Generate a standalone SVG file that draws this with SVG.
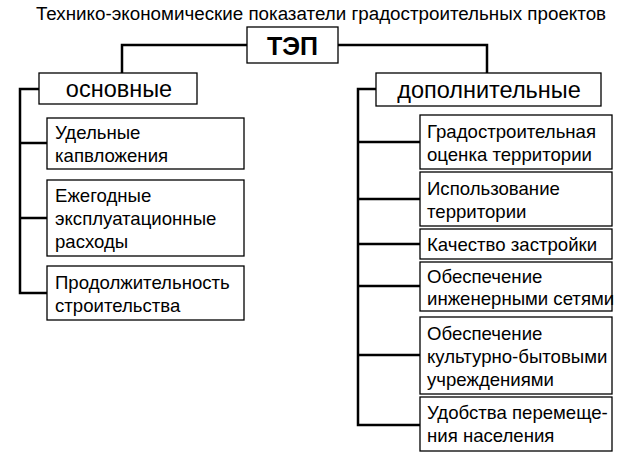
<svg xmlns="http://www.w3.org/2000/svg" width="641" height="454" viewBox="0 0 641 454">
<style>
rect{fill:#fff;stroke:#000;stroke-width:1.3}
text{font-family:"Liberation Sans",Arial,sans-serif;fill:#000}
.t{font-size:18.6px}
.h{font-size:23.5px}
#connectors path{fill:none;stroke:#000;stroke-width:2.5}
</style>
<rect x="0" y="0" width="641" height="454" style="stroke:none"/>
<text x="321" y="20" text-anchor="middle" style="font-size:18.8px">Технико-экономические показатели градостроительных проектов</text>
<g id="connectors">
<path d="M247 45H122V73M338 45H487V73"/>
<path d="M39 89H20V293H47M20 143H47M20 218H47"/>
<path d="M376 89H358V425H420M358 142H420M358 199H420M358 244H420M358 286H420M358 355H420"/>
</g>
<g id="tep"><rect x="247" y="27" width="91" height="36"/><text x="292.5" y="55" text-anchor="middle" style="font-size:25px;font-weight:bold">ТЭП</text></g>
<g id="osn"><rect x="39" y="73" width="158" height="31"/><text x="119" y="97" text-anchor="middle" class="h">основные</text></g>
<g id="dop"><rect x="376" y="73" width="225" height="33"/><text x="489" y="98" text-anchor="middle" class="h">дополнительные</text></g>
<g id="l1"><rect x="47" y="118" width="197" height="51"/><text x="55" y="139" class="t">Удельные</text><text x="55" y="162" class="t">капвложения</text></g>
<g id="l2"><rect x="47" y="180" width="197" height="76"/><text x="55" y="202" class="t">Ежегодные</text><text x="55" y="225" class="t">эксплуатационные</text><text x="55" y="248" class="t">расходы</text></g>
<g id="l3"><rect x="47" y="266" width="197" height="54"/><text x="55" y="289" class="t">Продолжительность</text><text x="55" y="312" class="t">строительства</text></g>
<g id="r1"><rect x="420" y="115" width="192" height="54"/><text x="427" y="138" class="t">Градостроительная</text><text x="427" y="161" class="t">оценка территории</text></g>
<g id="r2"><rect x="420" y="172" width="192" height="54"/><text x="427" y="195" class="t">Использование</text><text x="427" y="218" class="t">территории</text></g>
<g id="r3"><rect x="420" y="229" width="192" height="30"/><text x="427" y="251" class="t">Качество застройки</text></g>
<g id="r4"><rect x="420" y="262" width="192" height="49"/><text x="427" y="283" class="t">Обеспечение</text><text x="427" y="305" class="t">инженерными сетями</text></g>
<g id="r5"><rect x="420" y="317" width="192" height="77"/><text x="427" y="340" class="t">Обеспечение</text><text x="427" y="363" class="t">культурно-бытовыми</text><text x="427" y="386" class="t">учреждениями</text></g>
<g id="r6"><rect x="420" y="397" width="192" height="54"/><text x="427" y="419" class="t">Удобства перемеще-</text><text x="427" y="442" class="t">ния населения</text></g>
</svg>
